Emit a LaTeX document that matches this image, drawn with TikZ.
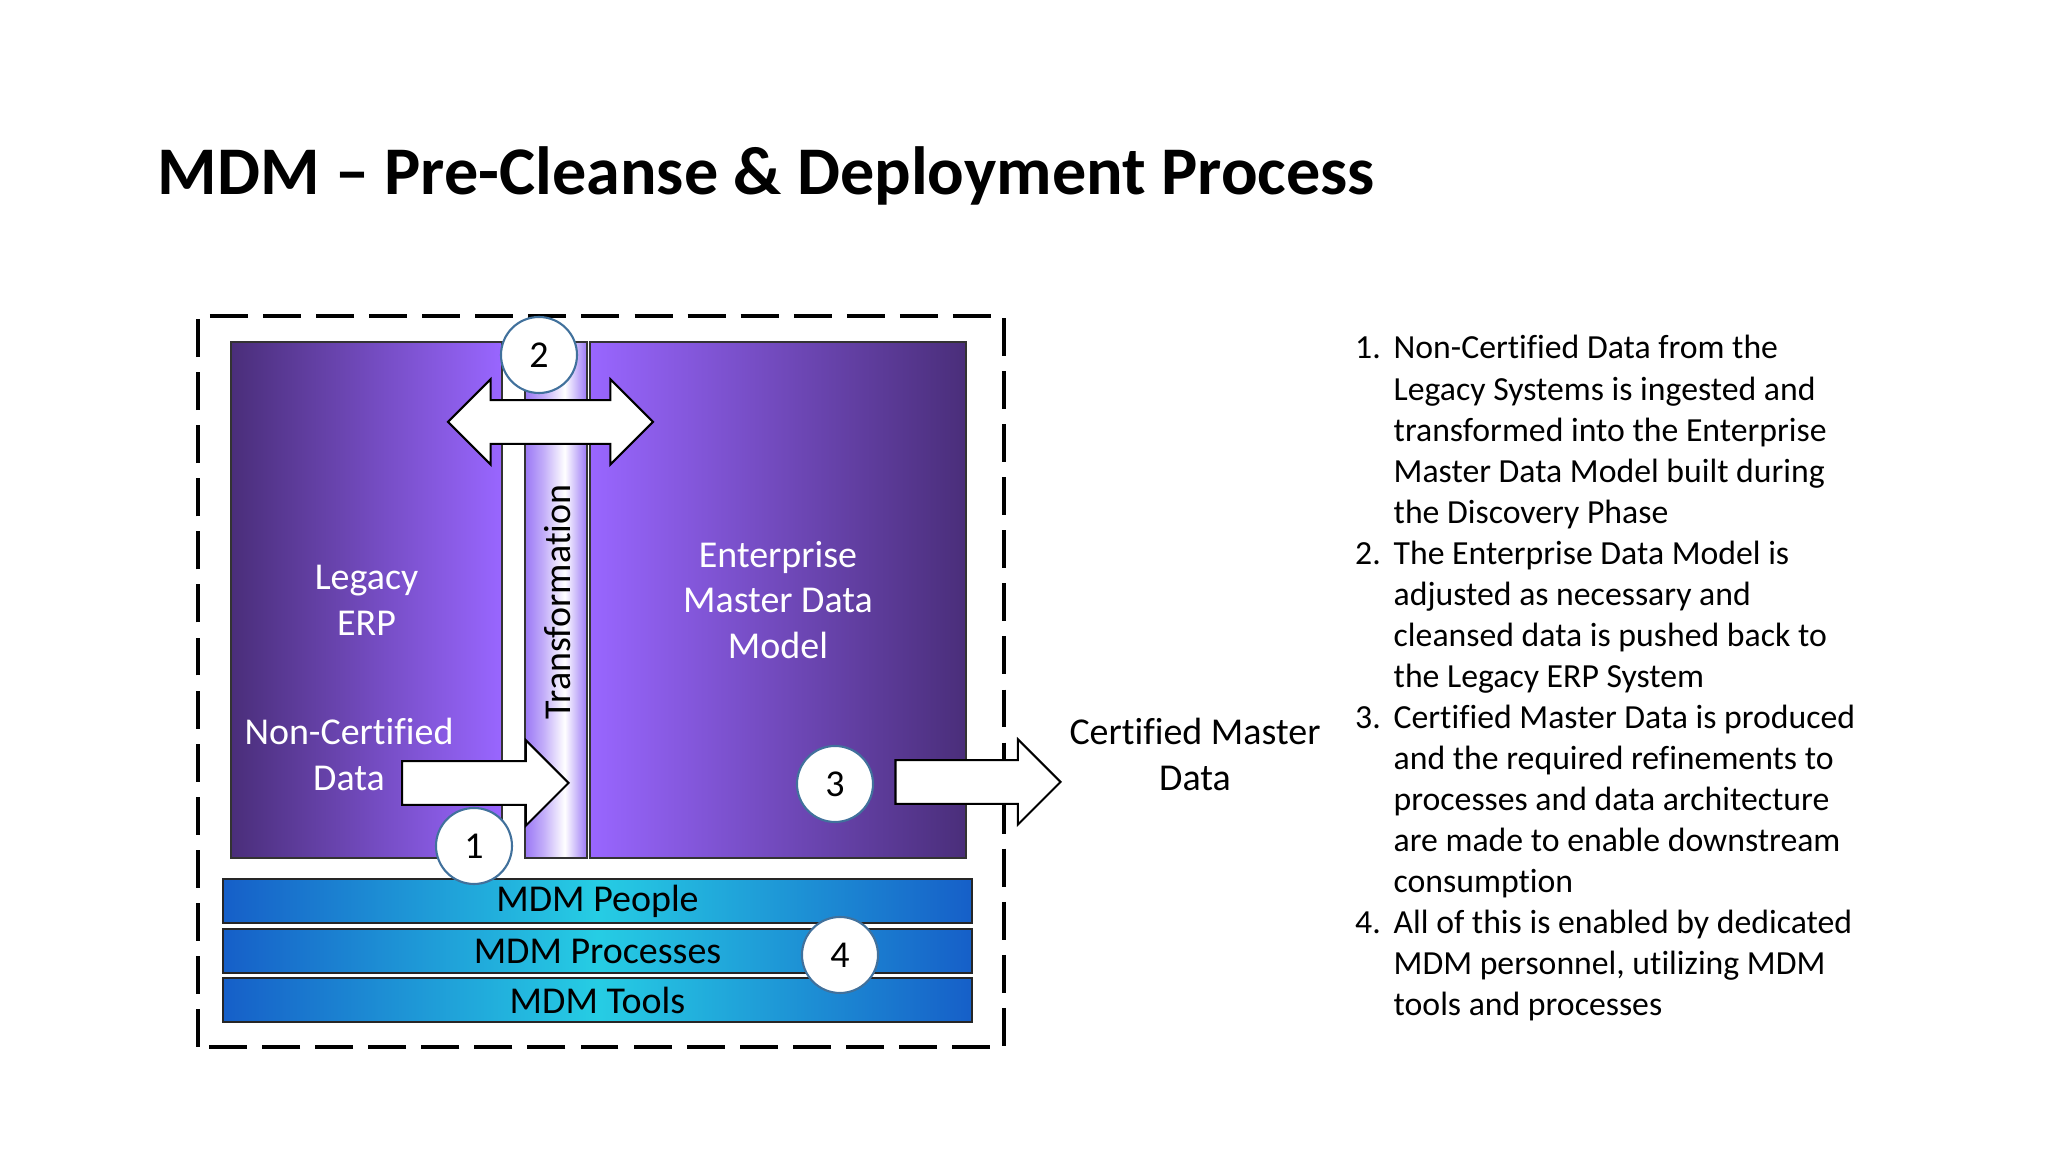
\documentclass[tikz,border=0pt]{standalone}
\usepackage{fontspec}
\setmainfont{Carlito}[Ligatures=NoCommon]
\usetikzlibrary{shapes.arrows}

\definecolor{lilaMork}{RGB}{74,46,122}
\definecolor{lilaLjus}{RGB}{153,102,255}
\definecolor{lavendel}{RGB}{155,120,245}
\definecolor{blaMork}{RGB}{22,95,200}
\definecolor{cyanLjus}{RGB}{38,205,228}
\definecolor{ringBla}{RGB}{65,113,156}

\newcommand{\rubrikfont}{\fontsize{19.4}{23}\selectfont\bfseries}
\newcommand{\etikettfont}{\fontsize{10.8}{13}\selectfont}
\newcommand{\listafont}{\fontsize{9.6}{11.67}\selectfont}

\pgfdeclarehorizontalshading{pillarshade}{100bp}{color(0bp)=(lavendel); color(25bp)=(lavendel);
    color(40bp)=(lavendel!60); color(57bp)=(white); color(75bp)=(lavendel); color(100bp)=(lavendel)}

\tikzset{
    frame/.style={line width=1.2pt, dash pattern=on 10.8pt off 4.3pt},
    sysbox/.style={rectangle, draw=black!80, line width=0.5pt, minimum height=5.16cm,
            inner sep=0pt, text=white, align=center, font=\etikettfont},
    pillar/.style={rectangle, draw=black!80, line width=0.5pt, minimum width=0.62cm,
            minimum height=5.16cm, inner sep=0pt, shade, shading=pillarshade},
    layerbar/.style={rectangle, draw=black!85, line width=0.6pt, minimum width=7.49cm,
            minimum height=0.44cm, inner sep=0pt, font=\etikettfont,
            left color=blaMork, right color=blaMork, middle color=cyanLjus},
    blockarrow/.style={single arrow, draw=black, line width=0.6pt, fill=white, anchor=tip,
            inner xsep=0pt, inner ysep=0.208cm, single arrow head extend=0.208cm},
    twinarrow/.style={double arrow, draw=black, line width=0.6pt, fill=white,
            inner xsep=0pt, inner ysep=0.208cm, double arrow head extend=0.208cm},
    whitelabel/.style={text=white, align=center, font=\etikettfont, inner sep=0pt},
    darklabel/.style={text=black, align=center, font=\etikettfont, inner sep=0pt},
    numring/.style={circle, draw=ringBla, line width=0.6pt, fill=white, minimum size=0.76cm,
            inner sep=0pt, font=\etikettfont}
}

\begin{document}
\begin{tikzpicture}
            \useasboundingbox (0, 0) rectangle (20.48, 11.52);

            % Rubriken
            \node[anchor=base west, inner sep=0pt, font=\rubrikfont] (title) at (1.57, 9.57)
                {MDM – Pre-Cleanse \& Deployment Process};

            % Streckad ram runt allt
            \draw[frame] (1.98, 1.05) rectangle (10.04, 8.36);

            % Legacy ERP och Enterprise Master Data Model
            \node[sysbox, minimum width=2.71cm, left color=lilaMork, right color=lilaLjus] (legacy)
                at (3.665, 5.52) {Legacy\\ERP};
            \node[sysbox, minimum width=3.76cm, left color=lilaLjus, right color=lilaMork] (emdm)
                at (7.78, 5.52) {Enterprise\\Master Data\\Model};

            % Transformationspelaren
            \node[pillar] (pillar) at (5.56, 5.52) {};
            \node[rotate=90, font=\etikettfont, inner sep=0pt] (translbl) at (5.58, 5.50) {Transformation};

            % Skikten under
            \foreach \y/\txt/\nm in {2.51/MDM People/people, 2.01/MDM Processes/processes, 1.52/MDM Tools/tools} {
                    \node[layerbar] (\nm) at (5.975, \y) {\txt};
                }

            % Blockpilar
            \node[blockarrow, minimum height=1.664cm] (ingest) at (5.70, 3.69) {};
            \node[blockarrow, minimum height=1.65cm] (publish) at (10.62, 3.70) {};
            \node[twinarrow, minimum height=2.05cm] (adjust) at (5.505, 7.30) {};

            % Texter vid pilarna
            \node[whitelabel] (noncert) at (3.49, 3.975) {Non-Certified\\Data};
            \node[darklabel] (certified) at (11.95, 3.975) {Certified Master\\Data};

            % Numrerade cirklar
            \foreach \x/\y/\n in {4.74/3.06/1, 5.39/7.97/2, 8.35/3.68/3, 8.40/1.97/4} {
                    \node[numring] (step\n) at (\x, \y) {\n};
                }

            % Listan till h\"oger
            \node[anchor=base west, inner sep=0pt, font=\listafont] (notes) at (13.545, 7.93) {%
                \begin{tabular}[t]{@{}p{0.385cm}@{}l@{}}
                    1. & Non-Certified Data from the\\
                       & Legacy Systems is ingested and\\
                       & transformed into the Enterprise\\
                       & Master Data Model built during\\
                       & the Discovery Phase\\
                    2. & The Enterprise Data Model is\\
                       & adjusted as necessary and\\
                       & cleansed data is pushed back to\\
                       & the Legacy ERP System\\
                    3. & Certified Master Data is produced\\
                       & and the required refinements to\\
                       & processes and data architecture\\
                       & are made to enable downstream\\
                       & consumption\\
                    4. & All of this is enabled by dedicated\\
                       & MDM personnel, utilizing MDM\\
                       & tools and processes
                \end{tabular}};
        \end{tikzpicture}
\end{document}
